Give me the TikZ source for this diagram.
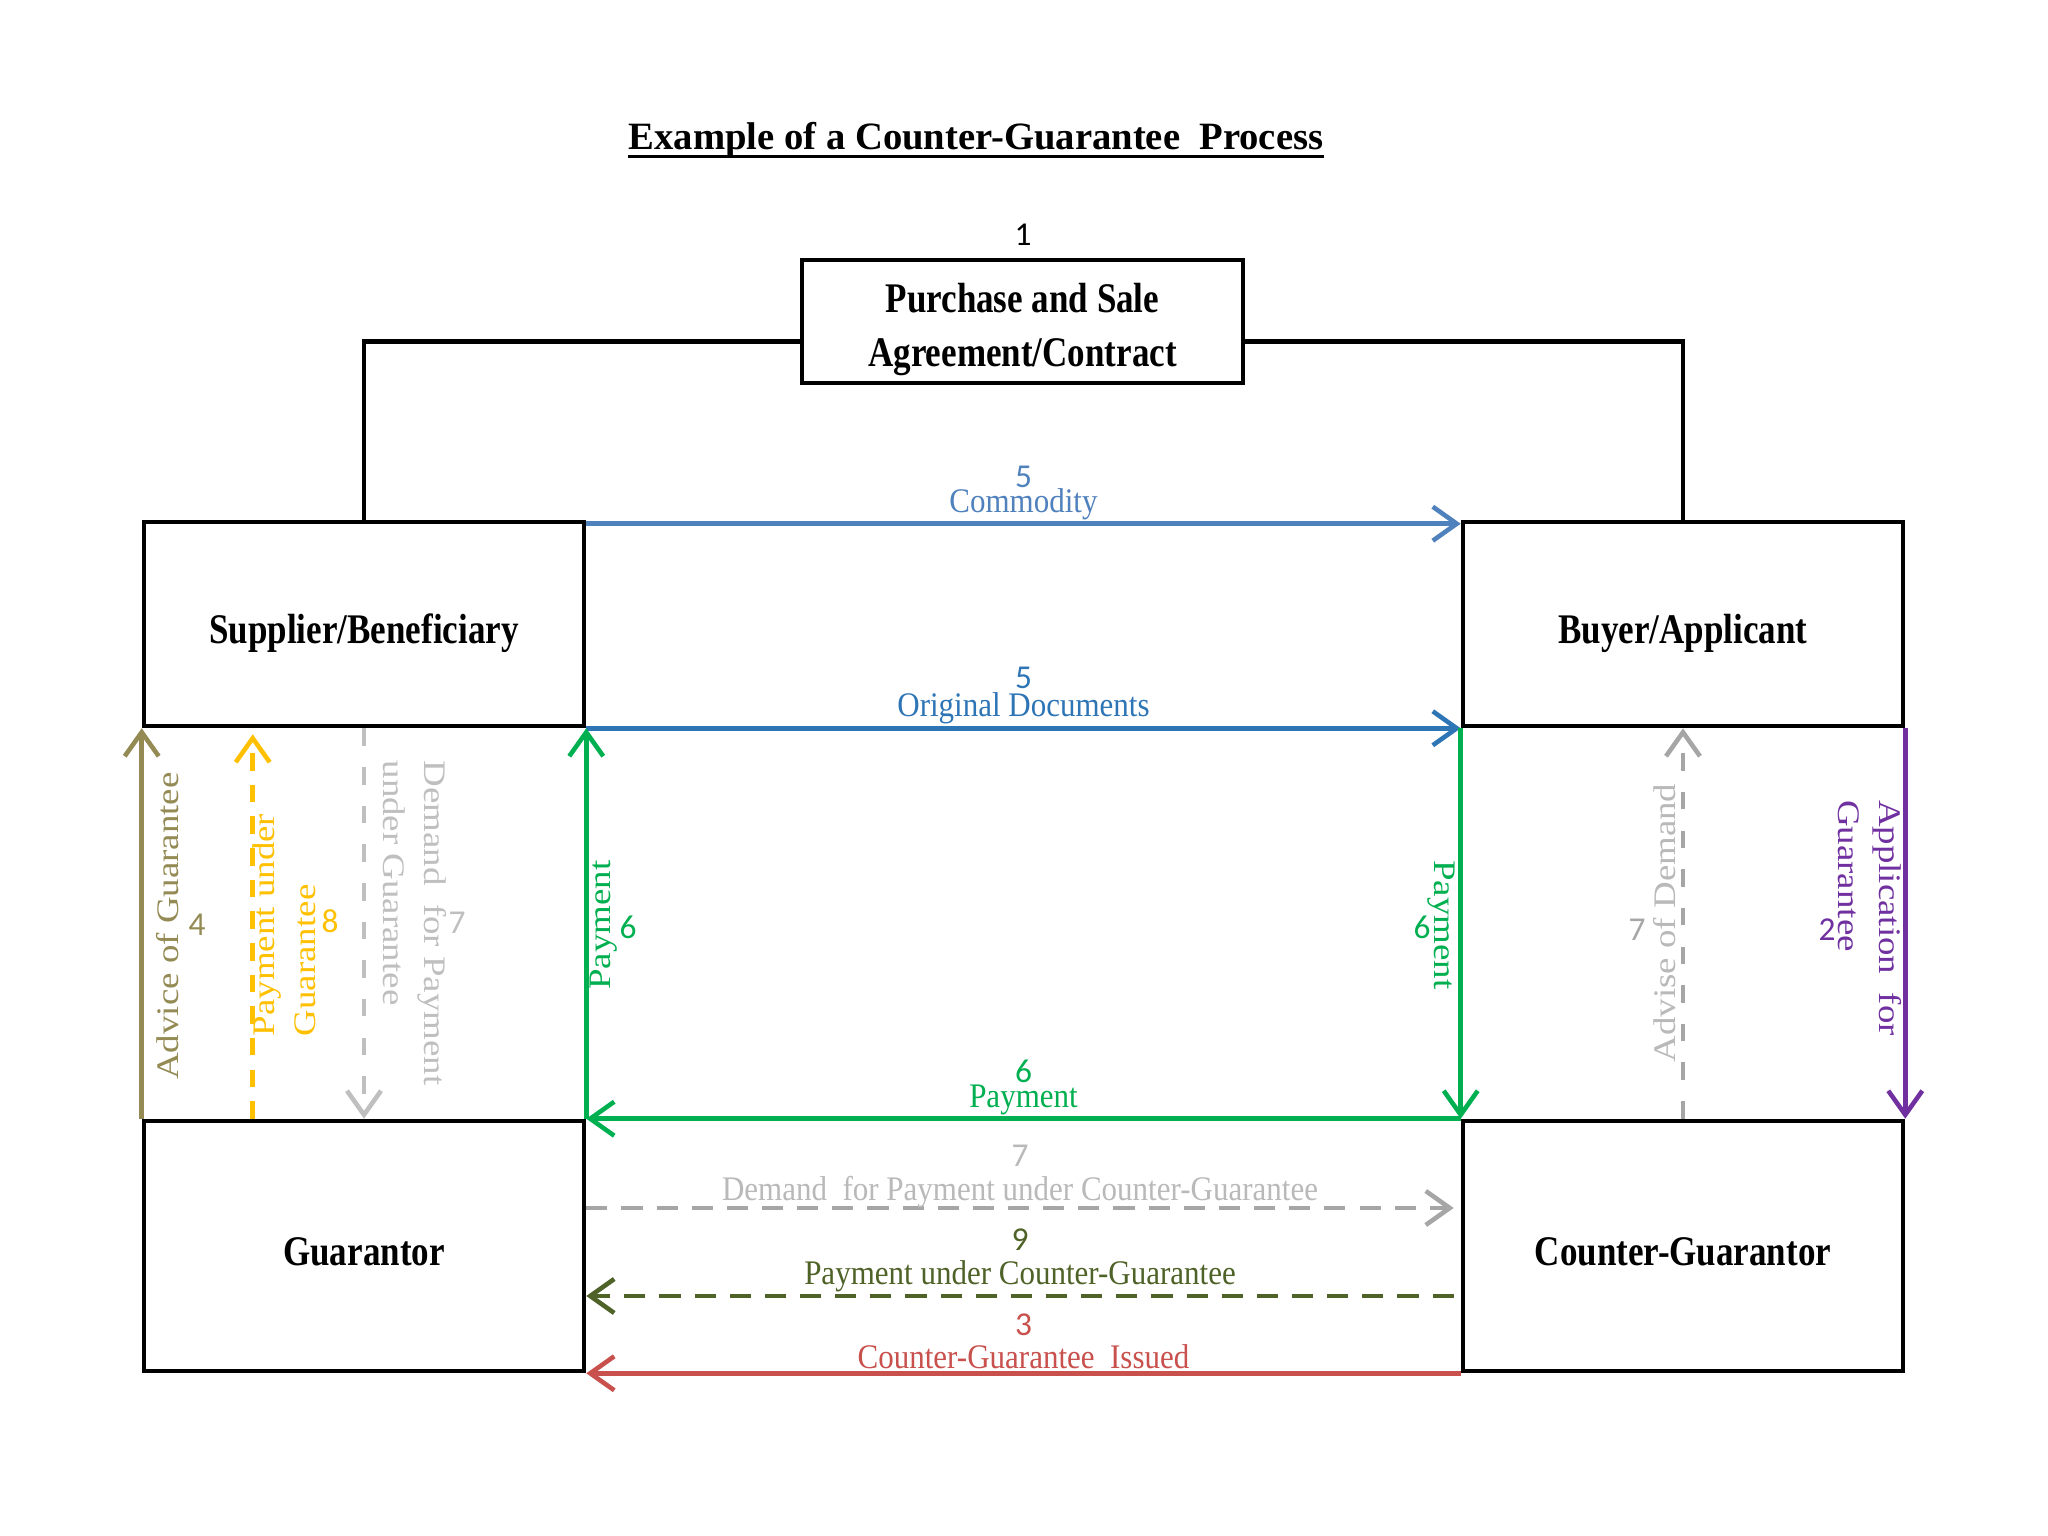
\documentclass[tikz,border=0pt]{standalone}
\usepackage{fontspec}
\setmainfont{Liberation Serif}
\newfontfamily\boxfont[FakeStretch=0.83]{Liberation Serif}
\newfontfamily\labfont[FakeStretch=0.9]{Liberation Serif}
\newfontfamily\numfont{Carlito}
\usepackage{graphicx}
\usepackage{tikz}
\usetikzlibrary{arrows.meta,positioning}
\usepackage{xcolor}
\definecolor{comcol}{RGB}{79,129,189}
\definecolor{doccol}{RGB}{46,117,182}
\definecolor{paycol}{RGB}{0,176,80}
\definecolor{dmdcol}{RGB}{166,166,166}
\definecolor{dmdtxt}{RGB}{185,185,185}
\definecolor{pcgcol}{RGB}{79,98,40}
\definecolor{isscol}{RGB}{200,80,77}
\definecolor{appcol}{RGB}{112,48,160}
\definecolor{advcol}{RGB}{148,138,84}
\definecolor{ylwcol}{RGB}{255,192,0}
\definecolor{lgray}{RGB}{191,191,191}
% number over label text
\newcommand{\hl}[3][0pt]{{\numfont\fontsize{9.5}{7}\selectfont #2}\\[#1]#3}
% squashed vertical text
\newcommand{\vsq}[1]{\scalebox{1}[0.85]{\begin{tabular}{@{}l@{}}#1\end{tabular}}}
\tikzset{
  % party box
  pbox/.style={rectangle, draw=black, line width=1.3pt, minimum width=4.4cm, inner sep=2pt,
               font=\boxfont\bfseries\fontsize{12}{15.6}\selectfont, align=center,
               text height=11pt, text depth=0pt},
  % flow arrow
  flow/.style={-{Straight Barb[length=2.4mm,width=3.4mm]}, line width=1.3pt, draw=#1},
  flow/.default={black},
  % dashed flow arrow
  dflow/.style={flow=#1, dash pattern=on 6pt off 4pt},
  % label over a horizontal arrow
  hlab/.style={midway, above, inner sep=0.5pt, align=center, font=\labfont\fontsize{9.8}{7}\selectfont, text=#1},
  % label beside a vertical arrow
  vlab/.style={inner sep=0pt, font=\fontsize{10.5}{13.5}\selectfont, text=#1},
  % step number
  stepno/.style={inner sep=0pt, font=\numfont\fontsize{9.5}{11}\selectfont, text=#1},
  stepno/.default={black},
}
\begin{document}
\begin{tikzpicture}
  \useasboundingbox[fill=white] (0,0) rectangle (20.48,-15.36);

  % title
  \node[inner sep=0pt, font=\bfseries\fontsize{11}{13}\selectfont] (ttl) at (9.76,-1.40)
    {Example of a Counter-Guarantee\ \ Process};
  \draw[line width=1.1pt] ([yshift=-2pt]ttl.base west) -- ([yshift=-2pt]ttl.base east);

  % parties and contract
  \node[pbox, minimum width=4.41cm, minimum height=1.23cm, text height=25.8pt] (psa) at (10.225,-3.215)
    {Purchase and Sale\\Agreement/Contract};
  \node[stepno] (n1) at (10.23,-2.35) {1};
  \node[pbox, minimum height=2.04cm] (sup) at (3.64,-6.24) {Supplier/Beneficiary};
  \node[pbox, minimum height=2.04cm] (buy) at (16.83,-6.24) {Buyer/Applicant};
  \node[pbox, minimum height=2.50cm] (gua) at (3.64,-12.46) {Guarantor};
  \node[pbox, minimum height=2.50cm] (cgu) at (16.83,-12.46) {Counter-Guarantor};

  \draw[line width=1.3pt] ([yshift=-0.2cm]psa.west) -| (sup.north);
  \draw[line width=1.3pt] ([yshift=-0.2cm]psa.east) -| (buy.north);

  % horizontal flows
  \draw[flow=comcol] ([yshift=-0.04cm]sup.north east) -- ([yshift=-0.04cm]buy.north west)
    node[hlab=comcol] {\hl{5}{Commodity}};
  \draw[flow=doccol] (sup.south east) -- (buy.south west)
    node[hlab=doccol] {\hl[1pt]{5}{Original Documents}};
  \draw[flow=paycol] (cgu.north west) -- (gua.north east)
    node[hlab=paycol] {\hl{6}{Payment}};
  \draw[dflow=dmdcol] ([yshift=0.38cm]gua.east) -- ([xshift=-0.07cm,yshift=0.38cm]cgu.west)
    node[hlab=dmdtxt, yshift=-1pt] {\hl[2.6pt]{7}{Demand\ \ for Payment under Counter-Guarantee}};
  \draw[dflow=pcgcol] ([xshift=-0.07cm,yshift=-0.5cm]cgu.west) -- ([yshift=-0.5cm]gua.east)
    node[hlab=pcgcol] {\hl[2.6pt]{9}{Payment under Counter-Guarantee}};
  \draw[flow=isscol] (cgu.south west) -- (gua.south east)
    node[hlab=isscol] {\hl[2.6pt]{3}{Counter-Guarantee\ \ Issued}};

  % vertical flows
  \draw[flow=advcol] (gua.north west) -- (sup.south west);
  \draw[dflow=ylwcol, dash pattern=on 5pt off 4pt] ([xshift=1.11cm]gua.north west) -- ([xshift=1.11cm,yshift=-0.06cm]sup.south west);
  \draw[dflow=lgray, dash pattern=on 5pt off 6pt] (sup.south) -- (gua.north);
  \draw[flow=paycol] (gua.north east) -- (sup.south east);
  \draw[flow=paycol] (buy.south west) -- (cgu.north west);
  \draw[dflow=dmdcol, dash pattern=on 5pt off 6pt] (cgu.north) -- (buy.south);
  \draw[flow=appcol] (buy.south east) -- (cgu.north east);

  % vertical labels
  \node[vlab=advcol, rotate=90] (advl) at (1.70,-9.26) {\vsq{Advice of Guarantee}};
  \node[stepno=advcol] (n4) at (1.97,-9.25) {4};
  \node[vlab=ylwcol, rotate=90] (ylwl) at (2.87,-9.25) {\vsq{Payment under\\Guarantee}};
  \node[stepno=ylwcol] (n8) at (3.30,-9.21) {8};
  \node[vlab=lgray, rotate=-90] (dmdl) at (4.12,-9.23) {\vsq{Demand\ \ for Payment\\under Guarantee}};
  \node[stepno=lgray] (n7a) at (4.57,-9.23) {7};
  \node[vlab=paycol, rotate=90] (payl) at (6.02,-9.25) {\vsq{Payment}};
  \node[stepno=paycol] (n6a) at (6.28,-9.27) {6};
  \node[vlab=paycol, rotate=-90] (payr) at (14.43,-9.25) {\vsq{Payment}};
  \node[stepno=paycol] (n6b) at (14.22,-9.27) {6};
  \node[vlab=dmdtxt, rotate=90] (advd) at (16.67,-9.23) {\vsq{Advise of Demand}};
  \node[stepno=dmdcol] (n7b) at (16.37,-9.30) {7};
  \node[vlab=appcol, rotate=-90] (appl) at (18.67,-9.18) {\vsq{Application\ \ for\\Guarantee}};
  \node[stepno=appcol] (n2) at (18.27,-9.30) {2};
\end{tikzpicture}
\end{document}
